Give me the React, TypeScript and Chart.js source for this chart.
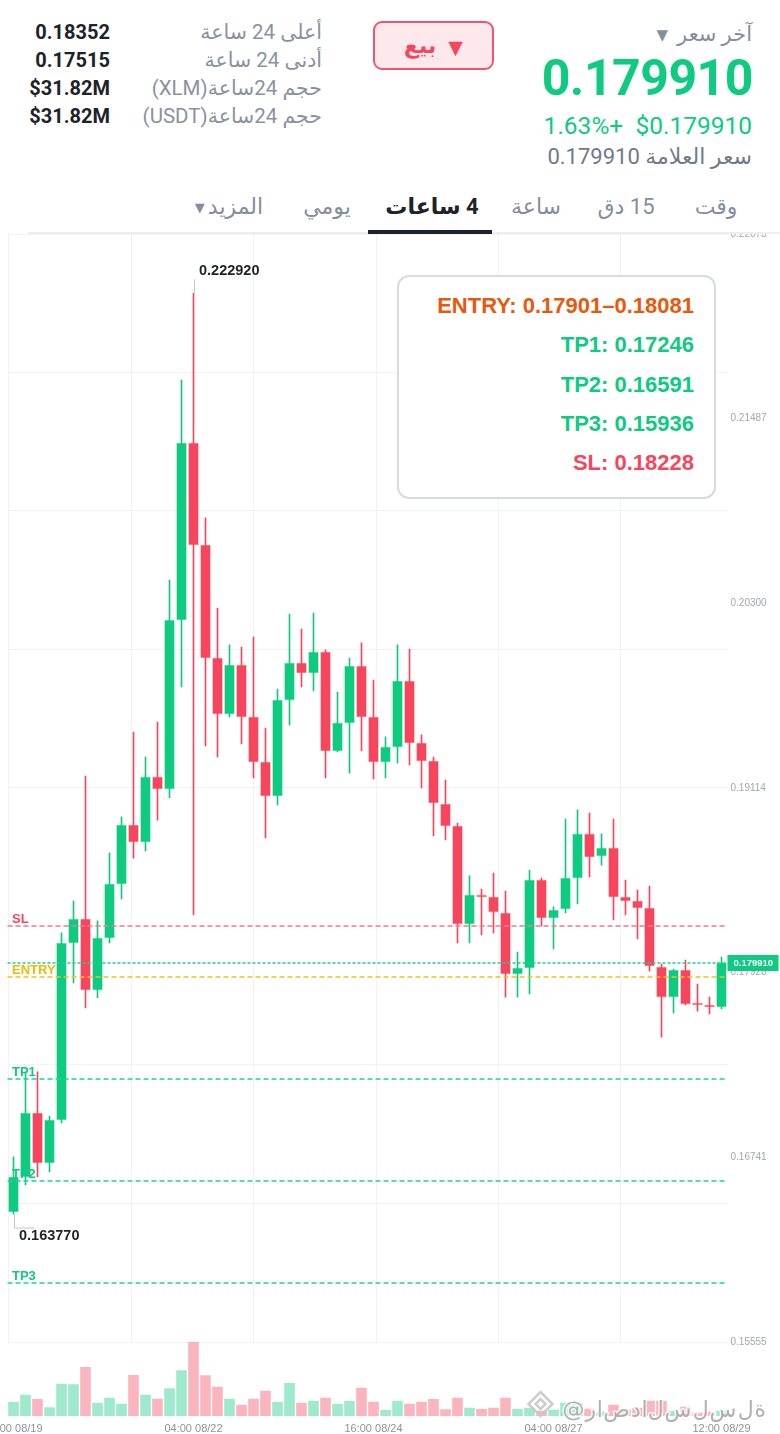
import React, { useEffect, useRef } from 'react';
import { Chart, registerables } from 'chart.js';

Chart.register(...registerables);

// ---------------- data ----------------
const times = [
  '16:00 08/19', '20:00 08/19', '00:00 08/20', '04:00 08/20', '08:00 08/20', '12:00 08/20', '16:00 08/20', '20:00 08/20',
  '00:00 08/21', '04:00 08/21', '08:00 08/21', '12:00 08/21', '16:00 08/21', '20:00 08/21',
  '00:00 08/22', '04:00 08/22', '08:00 08/22', '12:00 08/22', '16:00 08/22', '20:00 08/22',
  '00:00 08/23', '04:00 08/23', '08:00 08/23', '12:00 08/23', '16:00 08/23', '20:00 08/23',
  '00:00 08/24', '04:00 08/24', '08:00 08/24', '12:00 08/24', '16:00 08/24', '20:00 08/24',
  '00:00 08/25', '04:00 08/25', '08:00 08/25', '12:00 08/25', '16:00 08/25', '20:00 08/25',
  '00:00 08/26', '04:00 08/26', '08:00 08/26', '12:00 08/26', '16:00 08/26', '20:00 08/26',
  '00:00 08/27', '04:00 08/27', '08:00 08/27', '12:00 08/27', '16:00 08/27', '20:00 08/27',
  '00:00 08/28', '04:00 08/28', '08:00 08/28', '12:00 08/28', '16:00 08/28', '20:00 08/28',
  '00:00 08/29', '04:00 08/29', '08:00 08/29', '12:00 08/29',
];

const opens = [
  0.16390, 0.16615, 0.17026, 0.16705, 0.16981, 0.18118, 0.18272, 0.17816, 0.18150, 0.18497,
  0.18876, 0.18767, 0.19185, 0.19108, 0.20193, 0.21330, 0.20675, 0.19949, 0.19589, 0.19904,
  0.19570, 0.19281, 0.19063, 0.19679, 0.19917, 0.19853, 0.19988, 0.19352, 0.19532, 0.19898,
  0.19570, 0.19281, 0.19377, 0.19801, 0.19403, 0.19287, 0.19011, 0.18870, 0.18240, 0.18427,
  0.18414, 0.18311, 0.17919, 0.17958, 0.18523, 0.18279, 0.18337, 0.18536, 0.18819, 0.18677,
  0.18729, 0.18414, 0.18388, 0.18343, 0.17964, 0.17771, 0.17945, 0.17726, 0.17720, 0.17707,
];
const highs = [
  0.16744, 0.17290, 0.17290, 0.17007, 0.18183, 0.18388, 0.19191, 0.18260, 0.18696, 0.18928,
  0.19474, 0.19313, 0.19538, 0.20450, 0.21735, 0.22292, 0.20849, 0.20270, 0.20033, 0.20020,
  0.20084, 0.19499, 0.19750, 0.20232, 0.20135, 0.20238, 0.20001, 0.19731, 0.19949, 0.20046,
  0.19808, 0.19442, 0.20033, 0.20007, 0.19455, 0.19313, 0.19165, 0.18889, 0.18549, 0.18465,
  0.18568, 0.18452, 0.18060, 0.18587, 0.18536, 0.18350, 0.18915, 0.18973, 0.18953, 0.18819,
  0.18915, 0.18523, 0.18459, 0.18484, 0.17983, 0.17951, 0.18009, 0.17855, 0.17771, 0.18028,
];
const lows = [
  0.16377, 0.16564, 0.16615, 0.16647, 0.16962, 0.17861, 0.17701, 0.17765, 0.18118, 0.18401,
  0.18664, 0.18709, 0.18908, 0.19050, 0.19763, 0.18298, 0.19384, 0.19313, 0.19570, 0.19397,
  0.19178, 0.18793, 0.19005, 0.19519, 0.19763, 0.19737, 0.19178, 0.19345, 0.19210, 0.19352,
  0.19172, 0.19178, 0.19275, 0.19262, 0.19114, 0.18806, 0.18780, 0.18118, 0.18118, 0.18170,
  0.18183, 0.17771, 0.17771, 0.17791, 0.18228, 0.18080, 0.18311, 0.18369, 0.18542, 0.18619,
  0.18266, 0.18298, 0.18144, 0.17938, 0.17514, 0.17669, 0.17720, 0.17681, 0.17662, 0.17694,
];
const closes = [
  0.16615, 0.17026, 0.16705, 0.16981, 0.18118, 0.18272, 0.17816, 0.18150, 0.18497, 0.18876,
  0.18767, 0.19185, 0.19108, 0.20193, 0.21330, 0.20675, 0.19949, 0.19589, 0.19904, 0.19570,
  0.19281, 0.19063, 0.19679, 0.19917, 0.19853, 0.19988, 0.19352, 0.19532, 0.19898, 0.19570,
  0.19281, 0.19377, 0.19801, 0.19403, 0.19287, 0.19018, 0.18870, 0.18240, 0.18427, 0.18414,
  0.18317, 0.17919, 0.17958, 0.18523, 0.18279, 0.18330, 0.18536, 0.18819, 0.18671, 0.18729,
  0.18414, 0.18388, 0.18343, 0.17971, 0.17771, 0.17945, 0.17726, 0.17720, 0.17707, 0.17991,
];
// volume (millions XLM, estimated)
const volumes = [
  13.7, 21, 16.7, 8.3, 32, 31.3, 48.7, 12.7, 18, 12,
  40.7, 21, 17, 27.3, 45.3, 74, 40.3, 29, 17, 11,
  17, 25, 13.7, 32.7, 13, 15, 18, 11.7, 14.7, 28,
  14, 5.7, 15, 12, 14, 16.7, 6.3, 18, 8, 6.7,
  8, 18, 6.7, 8, 5, 6, 13, 13, 7, 4,
  11, 6, 8, 15, 15, 5, 9, 3, 4, 5,
];

const xTickIndexes = [0, 15, 30, 45, 59];
const priceMin = 0.15555;
const priceMax = 0.22673;
const priceLabels = [0.22673, 0.21487, 0.20300, 0.19114, 0.17928, 0.16741, 0.15555];
const priceGridValues = [0.22673, 0.21783, 0.20894, 0.20004, 0.19114, 0.18225, 0.17335, 0.16445, 0.15555];
const lastPrice = 0.17991;

const levelNames = ['SL', 'ENTRY', 'TP1', 'TP2', 'TP3'];
const levelValues = [0.18228, 0.17901, 0.17246, 0.16591, 0.15936];

const boxLines = ['ENTRY: 0.17901–0.18081', 'TP1: 0.17246', 'TP2: 0.16591', 'TP3: 0.15936', 'SL: 0.18228'];

// ---------------- styles ----------------
const GREEN = '#0ecb81';
const RED = '#f6465d';
const GREEN_VOL = 'rgba(14,203,129,0.4)';
const RED_VOL = 'rgba(246,70,93,0.4)';
const GRID = '#f1f2f4';
const AXIS_TEXT = '#a3a7ae';
const CFONT = '"Liberation Sans", Arial, sans-serif';
const HFONT = 'Roboto, "Noto Sans", "DejaVu Sans", sans-serif';

const levelStyles: Record<string, { line: string; text: string; dash: number[] }> = {
  SL: { line: '#f27c8e', text: '#f6465d', dash: [5, 3] },
  ENTRY: { line: '#f3c01c', text: '#f0b90b', dash: [5, 3] },
  TP1: { line: '#1ed394', text: '#0ecb81', dash: [5, 3] },
  TP2: { line: '#1ed394', text: '#0ecb81', dash: [5, 3] },
  TP3: { line: '#1ed394', text: '#0ecb81', dash: [5, 3] },
};
const boxColors = ['#e8590c', GREEN, GREEN, GREEN, RED];

const V_GRID_START = -0.42;
const V_GRID_STEP = 10.2;
const V_GRID_COUNT = 6;

const near = (a: number, list: number[]) => list.some((v) => Math.abs(v - a) < 1e-7);

const overlayPlugin = {
  id: 'overlay',
  beforeDatasetsDraw(chart: any) {
    const { ctx, scales } = chart;
    const x = scales.x;
    const y = scales.y;
    ctx.save();
    ctx.strokeStyle = GRID;
    ctx.lineWidth = 1;
    for (let k = 0; k < V_GRID_COUNT; k++) {
      const px = Math.round(x.getPixelForValue(V_GRID_START + k * V_GRID_STEP)) + 0.5;
      ctx.beginPath();
      ctx.moveTo(px, y.top);
      ctx.lineTo(px, y.bottom);
      ctx.stroke();
    }
    ctx.restore();
  },
  afterDatasetsDraw(chart: any) {
    const { ctx, scales, chartArea } = chart;
    const x = scales.x;
    const y = scales.y;
    ctx.save();
    // level lines
    levelNames.forEach((name, i) => {
      const st = levelStyles[name];
      const py = Math.round(y.getPixelForValue(levelValues[i]));
      ctx.setLineDash(st.dash);
      ctx.strokeStyle = st.line;
      ctx.lineWidth = 1.5;
      ctx.beginPath();
      ctx.moveTo(chartArea.left, py);
      ctx.lineTo(chartArea.right, py);
      ctx.stroke();
      ctx.setLineDash([]);
      ctx.fillStyle = st.text;
      ctx.font = `bold 13px ${CFONT}`;
      ctx.textBaseline = 'alphabetic';
      ctx.textAlign = 'left';
      ctx.fillText(name, chartArea.left + 4.5, py - 3.5);
    });
    // current price line
    const cy = Math.round(y.getPixelForValue(lastPrice));
    ctx.setLineDash([3, 2]);
    ctx.strokeStyle = '#22cf90';
    ctx.lineWidth = 1.3;
    ctx.beginPath();
    ctx.moveTo(chartArea.left, cy);
    ctx.lineTo(chartArea.right, cy);
    ctx.stroke();
    ctx.setLineDash([]);

    // extremes
    let hi = 0;
    let lo = 0;
    highs.forEach((v, i) => { if (v > highs[hi]) hi = i; });
    lows.forEach((v, i) => { if (v < lows[lo]) lo = i; });
    ctx.strokeStyle = '#c4c7cc';
    ctx.lineWidth = 1;
    const hx = Math.round(x.getPixelForValue(hi)) + 0.5;
    const hy = y.getPixelForValue(highs[hi]);
    ctx.beginPath();
    ctx.moveTo(hx, hy);
    ctx.lineTo(hx, hy - 14);
    ctx.stroke();
    const lx = Math.round(x.getPixelForValue(lo)) + 0.5;
    const ly = y.getPixelForValue(lows[lo]);
    ctx.beginPath();
    ctx.moveTo(lx, ly);
    ctx.lineTo(lx, ly + 14);
    ctx.lineTo(lx + 20, ly + 14);
    ctx.stroke();
    ctx.fillStyle = '#1e2329';
    ctx.font = `bold 14.5px ${CFONT}`;
    ctx.textAlign = 'left';
    ctx.textBaseline = 'alphabetic';
    ctx.fillText(highs[hi].toFixed(6), hx + 4.5, hy - 18);
    ctx.fillText(lows[lo].toFixed(6), lx + 4.5, ly + 26);

    // price tag
    ctx.fillStyle = GREEN;
    ctx.fillRect(chartArea.right, cy - 8, 51, 16);
    ctx.fillStyle = '#ffffff';
    ctx.font = `bold 9.5px ${CFONT}`;
    ctx.textBaseline = 'middle';
    ctx.textAlign = 'left';
    ctx.fillText(lastPrice.toFixed(6), chartArea.right + 6, cy + 0.5);
    ctx.restore();
  },
  afterDraw(chart: any) {
    const { ctx, chartArea } = chart;
    const yv = chart.scales.yv;
    ctx.save();
    // watermark logo
    const cx = chartArea.left + 533;
    const cyy = yv.bottom - 12;
    ctx.strokeStyle = 'rgba(200,200,200,0.9)';
    ctx.lineWidth = 2.5;
    ctx.beginPath();
    ctx.moveTo(cx, cyy - 12);
    ctx.lineTo(cx + 12, cyy);
    ctx.lineTo(cx, cyy + 12);
    ctx.lineTo(cx - 12, cyy);
    ctx.closePath();
    ctx.stroke();
    ctx.beginPath();
    ctx.moveTo(cx, cyy - 5);
    ctx.lineTo(cx + 5, cyy);
    ctx.lineTo(cx, cyy + 5);
    ctx.lineTo(cx - 5, cyy);
    ctx.closePath();
    ctx.stroke();
    // watermark text (glyphs drawn left to right, isolated)
    const chars = ['@', 'ر', 'ا', 'ص', 'د', 'ا', 'ل', 'س', 'ل', 'س', 'ل', 'ة'];
    ctx.font = `22px "DejaVu Sans", sans-serif`;
    ctx.textBaseline = 'alphabetic';
    ctx.textAlign = 'left';
    let tx = chartArea.left + 555;
    const ty = yv.bottom + 1;
    chars.forEach((c) => {
      ctx.lineWidth = 3;
      ctx.strokeStyle = 'rgba(255,255,255,0.8)';
      ctx.strokeText(c, tx, ty);
      ctx.fillStyle = 'rgba(150,150,150,0.75)';
      ctx.fillText(c, tx, ty);
      tx += ctx.measureText(c).width * 1.05;
    });
    ctx.restore();
  },
};

function ChartCanvas() {
  const ref = useRef<HTMLCanvasElement>(null);
  useEffect(() => {
    document.body.style.margin = '0';
    const up = closes.map((c, i) => c >= opens[i]);
    const chart = new Chart(ref.current as HTMLCanvasElement, {
      type: 'bar',
      data: {
        labels: times,
        datasets: [
          {
            label: 'wick',
            data: lows.map((l, i) => [l, highs[i]]) as any,
            backgroundColor: up.map((u) => (u ? GREEN : RED)),
            barThickness: 1,
            grouped: false,
            borderWidth: 0,
            yAxisID: 'y',
            order: 2,
          },
          {
            label: 'body',
            data: opens.map((o, i) => [o, closes[i]]) as any,
            backgroundColor: up.map((u) => (u ? GREEN : RED)),
            borderColor: up.map((u) => (u ? 'rgba(14,203,129,0.45)' : 'rgba(246,70,93,0.45)')),
            borderWidth: 0.8,
            borderSkipped: false,
            barThickness: 10,
            minBarLength: 2,
            grouped: false,
            yAxisID: 'y',
            order: 1,
          },
          {
            label: 'volume',
            data: volumes,
            backgroundColor: up.map((u) => (u ? GREEN_VOL : RED_VOL)),
            barThickness: 10,
            grouped: false,
            borderWidth: 0,
            yAxisID: 'yv',
            order: 3,
          },
        ],
      },
      options: {
        animation: false,
        responsive: false,
        maintainAspectRatio: false,
        events: [],
        layout: { padding: { left: 7.5, top: 2, right: 0, bottom: 0 } },
        plugins: { legend: { display: false }, tooltip: { enabled: false } },
        scales: {
          x: {
            type: 'category',
            offset: true,
            grid: { display: false, drawTicks: false },
            border: { display: false },
            afterBuildTicks: (s: any) => { s.ticks = xTickIndexes.map((v) => ({ value: v })); },
            afterFit: (s: any) => { s.height = 18; s.paddingLeft = 0; s.paddingRight = 0; },
            ticks: {
              autoSkip: false,
              maxRotation: 0,
              padding: 6,
              color: '#8e939a',
              font: { size: 11, family: CFONT },
              callback: (v: any) => times[v as number],
            },
          },
          y: {
            type: 'linear',
            position: 'right',
            stack: 'main',
            stackWeight: 1108,
            min: priceMin,
            max: priceMax,
            afterBuildTicks: (s: any) => {
              const all = Array.from(new Set([...priceLabels, ...priceGridValues])).sort((a, b) => b - a);
              s.ticks = all.map((v) => ({ value: v }));
            },
            afterFit: (s: any) => { s.width = 52.5; s.paddingTop = 0; s.paddingBottom = 0; },
            grid: {
              drawTicks: false,
              lineWidth: 1,
              color: (c: any) => (c.tick && near(c.tick.value, priceGridValues) ? GRID : 'rgba(0,0,0,0)'),
            },
            border: { display: false },
            ticks: {
              autoSkip: false,
              padding: 3,
              color: AXIS_TEXT,
              font: { size: 10, family: CFONT },
              callback: (v: any) => (near(Number(v), priceLabels) ? Number(v).toFixed(5) : ''),
            },
          },
          yv: {
            type: 'linear',
            position: 'right',
            stack: 'main',
            stackWeight: 74,
            min: 0,
            max: Math.max(...volumes),
            afterFit: (s: any) => { s.width = 52.5; s.paddingTop = 0; s.paddingBottom = 0; },
            grid: { display: false, drawTicks: false },
            border: { display: false },
            ticks: { display: false },
          },
        },
      } as any,
      plugins: [overlayPlugin],
    });
    return () => chart.destroy();
  }, []);
  return (
    <canvas
      ref={ref}
      width={780}
      height={1202}
      style={{ position: 'absolute', left: 0, top: 232, width: 780, height: 1202 }}
    />
  );
}

const abs = (s: React.CSSProperties): React.CSSProperties => ({ position: 'absolute', whiteSpace: 'pre', ...s });

const rows = [
  { label: 'أعلى 24 ساعة', value: '0.18352', cy: 32 },
  { label: 'أدنى 24 ساعة', value: '0.17515', cy: 60 },
  { label: 'حجم 24ساعة(XLM)', value: '$31.82M', cy: 88 },
  { label: 'حجم 24ساعة(USDT)', value: '$31.82M', cy: 116 },
];

const tabs = [
  { t: 'وقت', c: 716, active: false },
  { t: '15 دق', c: 626, active: false },
  { t: 'ساعة', c: 536, active: false },
  { t: '4 ساعات', c: 432, active: true },
  { t: 'يومي', c: 327, active: false },
];

const tri = (size: number): React.CSSProperties => ({ fontSize: size, verticalAlign: 'middle', fontFamily: '"DejaVu Sans", sans-serif' });

export default function App() {
  return (
    <div style={{ position: 'relative', width: 780, height: 1434, overflow: 'hidden', background: '#fff', fontFamily: HFONT }}>
      <ChartCanvas />
      {/* right header */}
      <div dir="rtl" style={abs({ right: 28, top: 21, height: 26, lineHeight: '26px', fontSize: 21, color: '#848e9c' })}>
        آخر سعر<span style={{ ...tri(15), marginRight: 9 }}>▼</span>
      </div>
      <div style={abs({ right: 27, top: 53, height: 50, lineHeight: '50px', fontSize: 50, fontWeight: 700, color: GREEN, letterSpacing: -0.5 })}>0.179910</div>
      <div dir="ltr" style={abs({ right: 28, top: 112, height: 28, lineHeight: '28px', fontSize: 24.5, color: GREEN })}>1.63%+  $0.179910</div>
      <div dir="rtl" style={abs({ right: 28, top: 143, height: 28, lineHeight: '28px', fontSize: 22, color: '#707a8a' })}>سعر العلامة 0.179910</div>
      {/* left stats */}
      {rows.map((r) => (
        <React.Fragment key={r.cy}>
          <div dir="rtl" style={abs({ right: 458, top: r.cy - 13, height: 26, lineHeight: '26px', fontSize: 20.5, color: '#8a929e' })}>{r.label}</div>
          <div style={abs({ right: 670, top: r.cy - 12, height: 24, lineHeight: '24px', fontSize: 20, fontWeight: 700, color: '#1e2329' })}>{r.value}</div>
        </React.Fragment>
      ))}
      {/* sell button */}
      <div
        dir="rtl"
        style={abs({
          left: 373, top: 21, width: 121, height: 49, boxSizing: 'border-box', border: '2px solid #f0566b',
          borderRadius: 9, background: '#fde8eb', color: RED, fontSize: 22, fontWeight: 700,
          lineHeight: '45px', textAlign: 'center',
        })}
      >
        <span style={{ ...tri(19), marginLeft: 12 }}>▼</span>بيع
      </div>
      {/* tabs */}
      {tabs.map((t) => (
        <div
          key={t.c}
          dir="rtl"
          style={abs({
            left: t.c - 70, width: 140, top: 192, height: 30, lineHeight: '30px', textAlign: 'center',
            fontSize: 22, fontWeight: t.active ? 700 : 400, color: t.active ? '#1e2329' : '#848e9c',
          })}
        >
          {t.t}
        </div>
      ))}
      <div
        dir="rtl"
        style={abs({ left: 159, width: 140, top: 192, height: 30, lineHeight: '30px', textAlign: 'center', fontSize: 22, color: '#848e9c' })}
      >
        المزيد<span style={{ ...tri(13), marginRight: 3 }}>▼</span>
      </div>
      <div style={abs({ left: 28, top: 232, width: 752, height: 2, background: '#eceef1' })} />
      <div style={abs({ left: 368, top: 230, width: 124, height: 4, background: '#1e2329' })} />
      {/* info box */}
      <div
        style={abs({
          left: 397, top: 275, width: 319, height: 224, boxSizing: 'border-box', border: '2px solid #d7dade',
          borderRadius: 12, background: '#ffffff',
        })}
      >
        {boxLines.map((l, i) => (
          <div
            key={l}
            style={abs({
              right: 20, top: 15 + i * 39.3, height: 28, lineHeight: '28px', fontSize: 22, fontWeight: 700,
              fontFamily: CFONT, color: boxColors[i],
            })}
          >
            {l}
          </div>
        ))}
      </div>
    </div>
  );
}
